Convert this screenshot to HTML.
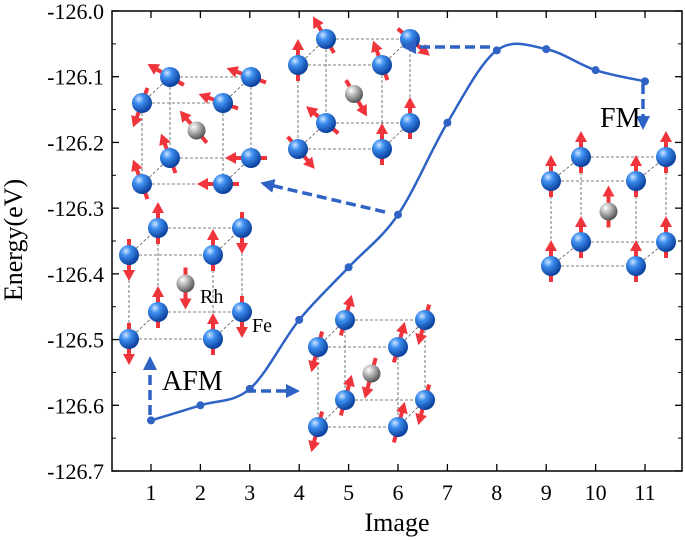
<!DOCTYPE html>
<html><head><meta charset="utf-8"><style>body{margin:0;background:#fff}svg{display:block}</style></head>
<body>
<svg id="c" width="685" height="540" xmlns="http://www.w3.org/2000/svg" font-family="Liberation Serif, serif">
<defs>
<radialGradient id="bs" cx="0.35" cy="0.3" r="0.7"><stop offset="0" stop-color="#cfe6ff"/><stop offset="0.35" stop-color="#3d8ff0"/><stop offset="1" stop-color="#0b3f9c"/></radialGradient>
<radialGradient id="gs" cx="0.35" cy="0.3" r="0.7"><stop offset="0" stop-color="#fff"/><stop offset="0.5" stop-color="#aaa"/><stop offset="1" stop-color="#555"/></radialGradient>
<marker id="ah" markerUnits="userSpaceOnUse" markerWidth="14" markerHeight="14" refX="4" refY="7" orient="auto"><path d="M0,0 L14,7 L0,14 z" fill="#2e62c4"/></marker>
</defs>
<g id="insets"></g>
<g id="axes"></g>
<g id="series"></g>
</svg>
<script>
const images=[1,2,3,4,5,6,7,8,9,10,11];
const energies=[-126.623,-126.600,-126.575,-126.470,-126.390,-126.310,-126.170,-126.060,-126.058,-126.090,-126.107];
const yTicks=[-126.0,-126.1,-126.2,-126.3,-126.4,-126.5,-126.6,-126.7];
const yLabels=["-126.0","-126.1","-126.2","-126.3","-126.4","-126.5","-126.6","-126.7"];
const xTicks=[1,2,3,4,5,6,7,8,9,10,11];
const NS="http://www.w3.org/2000/svg";
const L=112,R=682,T=11,B=471;
const xs=v=>151+(v-1)*(645-151)/10;
const ys=v=>B-(v+126.7)*(B-T)/0.7;
function mk(tag,attrs,parent){const e=document.createElementNS(NS,tag);for(const k in attrs)e.setAttribute(k,attrs[k]);(parent||document.getElementById('c')).appendChild(e);return e;}
const ax=document.getElementById('axes'),sg=document.getElementById('series'),ins=document.getElementById('insets');
let fr=mk('rect',{x:L,y:T,width:R-L,height:B-T,fill:'none',stroke:'#000','stroke-width':1.5},ax);


yTicks.forEach((v,i)=>{const y=ys(v);
 mk('line',{x1:L,x2:L+7,y1:y,y2:y,stroke:'#000','stroke-width':1.3},ax);
 mk('line',{x1:R,x2:R-7,y1:y,y2:y,stroke:'#000','stroke-width':1.3},ax);
 if(i<7){const ym=ys(v-0.05);mk('line',{x1:L,x2:L+4,y1:ym,y2:ym,stroke:'#000'},ax);mk('line',{x1:R,x2:R-4,y1:ym,y2:ym,stroke:'#000'},ax);}
 const t=mk('text',{x:L-8,y:y+8,'text-anchor':'end','font-size':22},ax);t.textContent=yLabels[i];
 
 
});
xTicks.forEach(v=>{const x=xs(v);
 mk('line',{x1:x,x2:x,y1:B,y2:B-7,stroke:'#000','stroke-width':1.3},ax);
 mk('line',{x1:x,x2:x,y1:T,y2:T+7,stroke:'#000','stroke-width':1.3},ax);
 const t=mk('text',{x:x,y:B+29,'text-anchor':'middle','font-size':22},ax);t.textContent=v;
 
 
});
let xt=mk('text',{x:397,y:531,'text-anchor':'middle','font-size':26},ax);xt.textContent='Image';


let yt=mk('text',{x:0,y:0,'text-anchor':'middle','font-size':26,transform:'translate(22,240) rotate(-90)'},ax);yt.textContent='Energy(eV)';


const P=images.map((v,i)=>[xs(v),ys(energies[i])]);
let d='M'+P[0][0]+','+P[0][1];
for(let i=0;i<P.length-1;i++){const p0=P[Math.max(0,i-1)],p1=P[i],p2=P[i+1],p3=P[Math.min(P.length-1,i+2)];
 d+=` C${p1[0]+(p2[0]-p0[0])/6},${p1[1]+(p2[1]-p0[1])/6} ${p2[0]-(p3[0]-p1[0])/6},${p2[1]-(p3[1]-p1[1])/6} ${p2[0]},${p2[1]}`;}
let ln=mk('path',{d:d,fill:'none',stroke:'#2e62c4','stroke-width':2.5},sg);


P.forEach(p=>{const c=mk('circle',{cx:p[0],cy:p[1],r:4,fill:'#2e62c4'},sg);
 
 });
[[150,415,150,366],[246,391,290,391],[385,212,270,185],[490,47,412,47],[643,84,643,120]].forEach(a=>{
 const e=mk('line',{x1:a[0],y1:a[1],x2:a[2],y2:a[3],stroke:'#2e62c4','stroke-width':3.5,'stroke-dasharray':'10,5','marker-end':'url(#ah)'},sg);
 
 });
function cube(x,y,s,dx,dy,arrows,name){
 const g=mk('g',{},ins);
 
 
 const f=[[x,y],[x+s,y],[x,y+s],[x+s,y+s]],bk=f.map(p=>[p[0]+dx,p[1]+dy]);
 const E=[[0,1],[0,2],[1,3],[2,3]];
 const ed=(a,b)=>mk('line',{x1:a[0],y1:a[1],x2:b[0],y2:b[1],stroke:'#555','stroke-width':0.8,'stroke-dasharray':'3,2'},g);
 E.forEach(e=>{ed(f[e[0]],f[e[1]]);ed(bk[e[0]],bk[e[1]]);});
 f.forEach((p,i)=>ed(p,bk[i]));
 const all=[...bk,...f];
 const drawArrow=(p,ang)=>{const r=ang*Math.PI/180,c=Math.cos(r),sn=Math.sin(r);
  mk('line',{x1:p[0]-c*16,y1:p[1]-sn*16,x2:p[0]+c*16,y2:p[1]+sn*16,stroke:'#f0343c','stroke-width':4},g);
  const tx=p[0]+c*26,ty=p[1]+sn*26,bx=p[0]+c*15,by=p[1]+sn*15;
  mk('polygon',{points:`${tx},${ty} ${bx-sn*6},${by+c*6} ${bx+sn*6},${by-c*6}`,fill:'#f0343c'},g);};
 all.forEach((p,i)=>drawArrow(p,arrows[i]));
 const cx=x+s/2+dx/2,cy=y+s/2+dy/2;
 drawArrow([cx,cy],arrows[8]);
 mk('circle',{cx:cx,cy:cy,r:9,fill:'url(#gs)'},g);
 all.forEach(p=>mk('circle',{cx:p[0],cy:p[1],r:10,fill:'url(#bs)'},g));
}
cube(142,103,81,28,-26,[-150,200,-110,180,110,-160,-110,180,-130],'afm-cube-top-left');
cube(298,65,84,28,-26,[-120,40,-140,-90,-90,-110,50,-90,60],'saddle-cube-top');
cube(551,181,85,30,-24,[-90,-90,-90,-90,-90,-90,-90,-90,-90],'fm-cube');
cube(129,255,84,29,-27,[-90,90,-90,90,90,-90,90,-90,90],'afm-cube-left');
cube(318,347,80,27,-27,[-75,105,-75,105,105,-75,105,-75,105],'tilted-cube-bottom');
[['AFM',162,390,28,'afm-label'],['FM',600,127,28,'fm-label'],['Rh',200,303,20,'rh-label'],['Fe',252,332,20,'fe-label']].forEach(a=>{
 const t=mk('text',{x:a[1],y:a[2],'font-size':a[3]},sg);t.textContent=a[0];
 
 });
</script>
</body></html>
